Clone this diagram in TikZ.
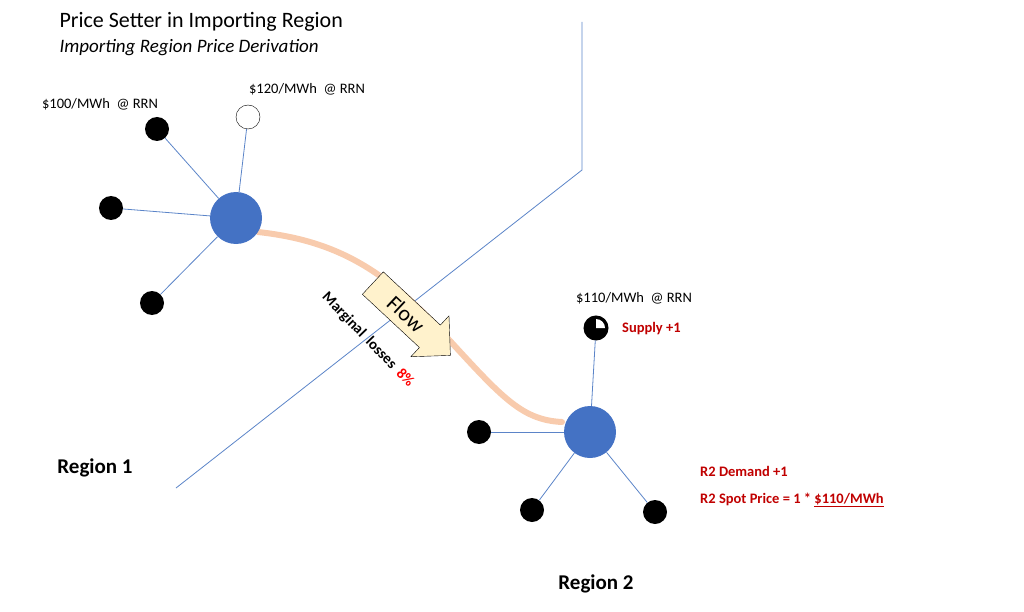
\documentclass[tikz,border=0pt]{standalone}
\usepackage{fontspec}
\setmainfont{Carlito}
\usetikzlibrary{shapes.arrows}
\definecolor{hub}{HTML}{4472C4}
\definecolor{lin}{HTML}{5B84C8}
\definecolor{flowc}{HTML}{F8CBAD}
\definecolor{rd}{HTML}{C00000}
\definecolor{ay}{HTML}{FFF2CC}
\begin{document}
\begin{tikzpicture}[x=1pt,y=-1pt,
 hubn/.style={circle,fill=hub,minimum size=52pt,inner sep=0},
 gen/.style={circle,fill=black,minimum size=24pt,inner sep=0},
 wgen/.style={circle,draw=black,fill=white,minimum size=24pt,inner sep=0},
 ln/.style={lin,line width=0.8pt},
 lbl/.style={font=\fontsize{14.5}{16}\selectfont,inner sep=0},
 red/.style={text=rd,font=\fontsize{14.5}{16}\selectfont\bfseries,inner sep=0,anchor=west},
 reg/.style={font=\fontsize{21}{24}\selectfont\bfseries}]
\useasboundingbox (0,0) rectangle (1024,612);
\node[anchor=west,font=\fontsize{22}{26}\selectfont] (t1) at (56,22) {Price Setter in Importing Region};
\node[anchor=west,font=\fontsize{19}{22}\selectfont\itshape] (t2) at (56,48) {Importing Region Price Derivation};
% boundary
\coordinate (b1) at (582,22); \coordinate (b2) at (582,170); \coordinate (b3) at (176,488);
\draw[ln] (b1) -- (b2) -- (b3);
% flow
\coordinate (f1) at (258,232); \coordinate (f2) at (562,422);
\draw[flowc,line width=6pt,line cap=round] (f1) .. controls (330,240) and (380,265) .. (440,330) .. controls (500,395) and (520,420) .. (f2);
% region 1
\node[hubn] (h1) at (236,218) {};
\node[gen] (a1) at (157,129) {};
\node[wgen] (a2) at (248,117) {};
\node[gen] (a3) at (111,208) {};
\node[gen] (a4) at (152,303) {};
\foreach \n in {a1,a2,a3,a4} \draw[ln] (h1) -- (\n);
\node[lbl] (l1) at (100,104) {\$100/MWh \ @ RRN};
\node[lbl] (l2) at (307,89) {\$120/MWh \ @ RRN};
% region 2
\node[hubn] (h2) at (590,432) {};
\node[gen,draw=black,line width=1pt] (s) at (596,328) {};
\fill[white] (596,328) -- (596,319) arc (-90:0:9) -- cycle;
\node[gen] (c1) at (479,432) {};
\node[gen] (c2) at (532,510) {};
\node[gen] (c3) at (655,512) {};
\foreach \n in {s,c1,c2,c3} \draw[ln] (h2) -- (\n);
\node[lbl] (l3) at (634,298) {\$110/MWh \ @ RRN};
\node[red] (sup) at (622,329) {Supply +1};
\node[red] (d) at (700,471) {R2 Demand +1};
\node[red] (sp) at (700,500) {R2 Spot Price = 1 * \underline{\$110/MWh}};
% flow arrow
\node[single arrow,draw=black,fill=ay,rotate=-43,minimum height=106pt,minimum width=56pt,single arrow head extend=9pt,single arrow tip angle=90,inner sep=3pt,font=\fontsize{22}{24}\selectfont] (fa) at (406,314) {Flow};
\node[rotate=-46,font=\fontsize{15}{17}\selectfont\bfseries,inner sep=0] (ml) at (368,340) {Marginal \ losses \ \textcolor{red}{8\%}};
\node[reg] (r1) at (95,468) {Region 1};
\node[reg] (r2) at (596,584) {Region 2};
\end{tikzpicture}
\end{document}
